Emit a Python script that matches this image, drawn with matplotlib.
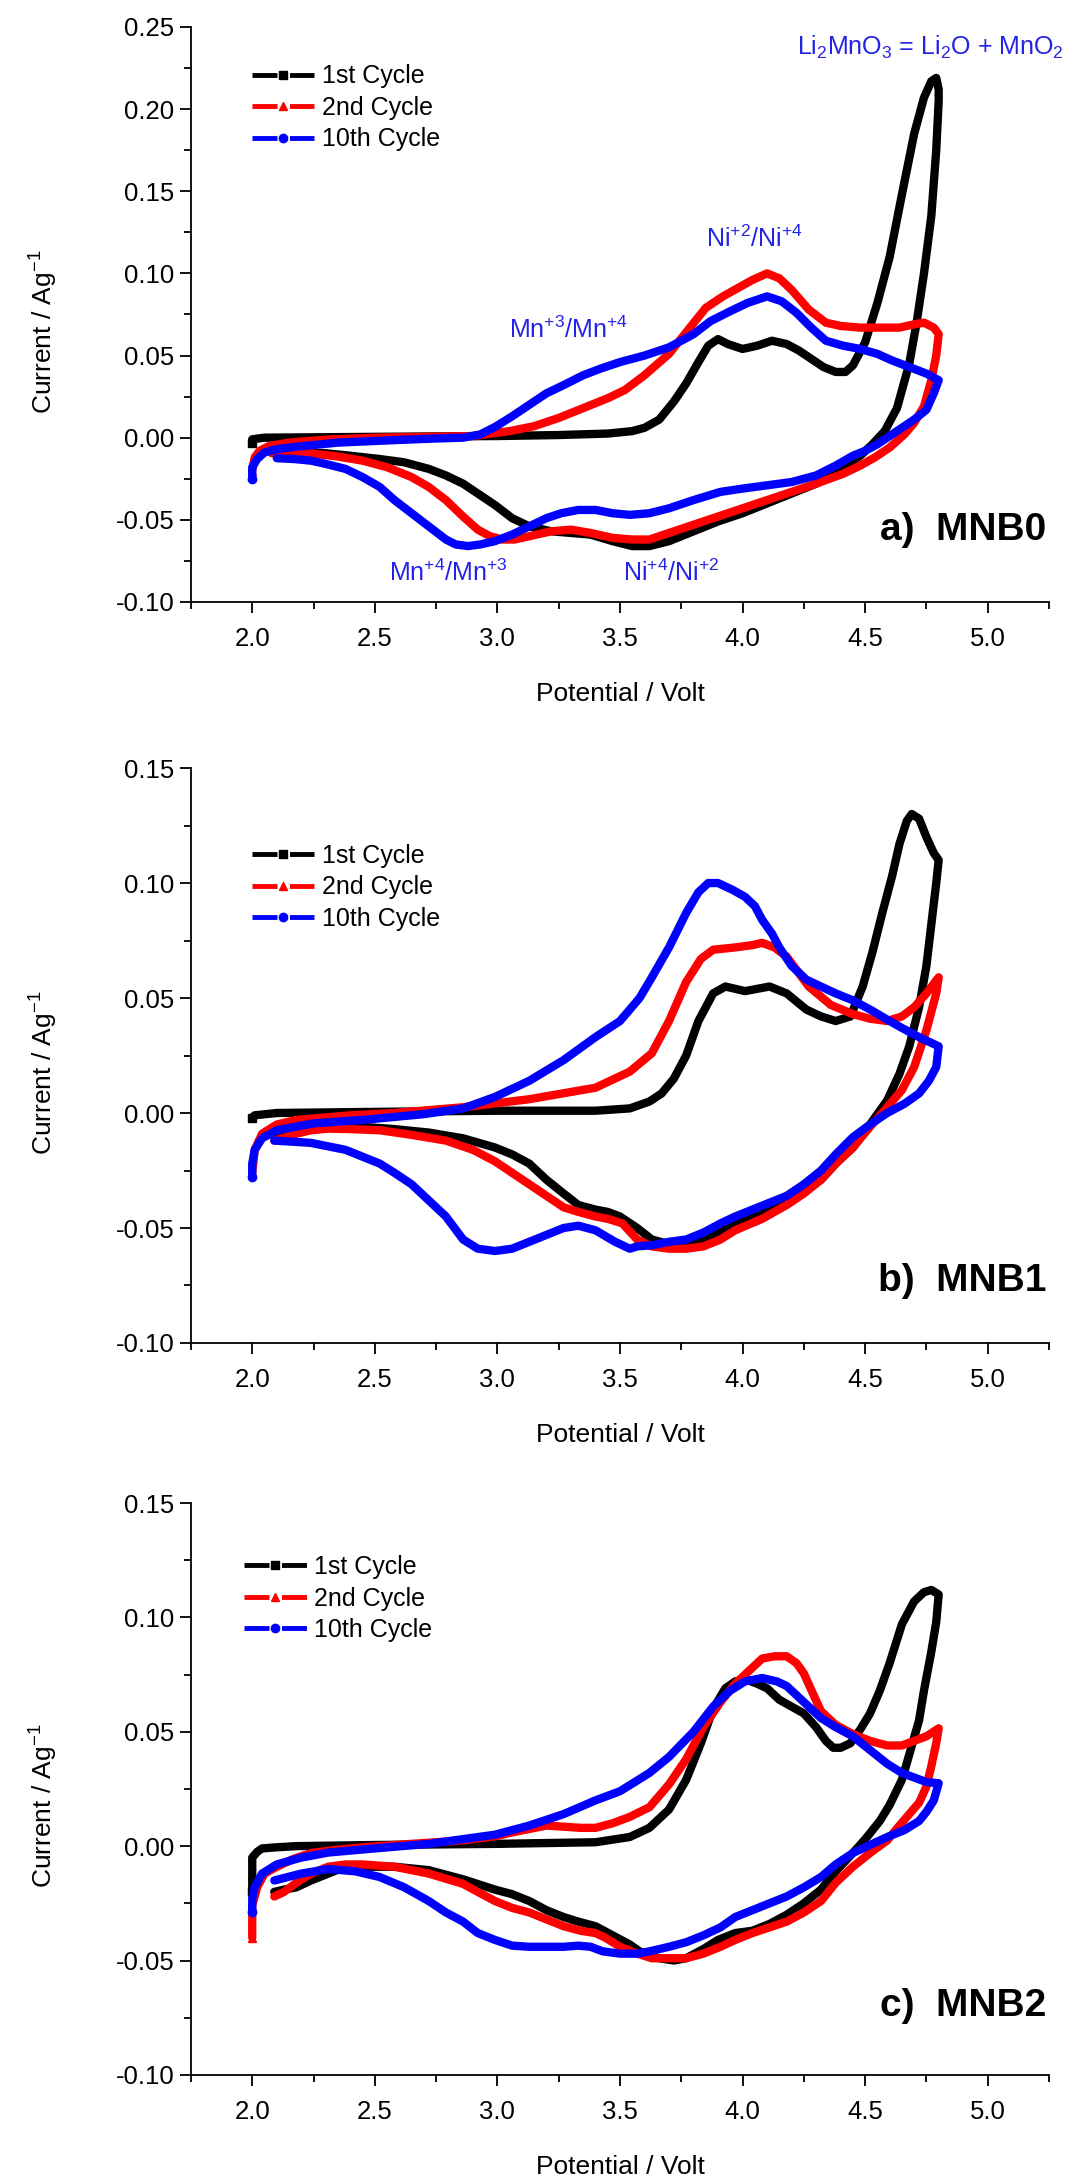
import numpy as np
import matplotlib
matplotlib.use("Agg")
import matplotlib.pyplot as plt
from matplotlib.lines import Line2D
from matplotlib.ticker import MultipleLocator, FormatStrFormatter

plt.rcParams["font.family"] = ["Liberation Sans", "DejaVu Sans"]
plt.rcParams["mathtext.fontset"] = "custom"
plt.rcParams["mathtext.rm"] = "Liberation Sans"
plt.rcParams["mathtext.it"] = "Liberation Sans:italic"
plt.rcParams["mathtext.bf"] = "Liberation Sans:bold"
plt.rcParams["axes.unicode_minus"] = False
plt.rcParams["lines.scale_dashes"] = False

CYCLES = ["1st Cycle", "2nd Cycle", "10th Cycle"]
COLORS = ["#000000", "#ff0000", "#0000ff"]
MARKERS = ["s", "^", "o"]
ANNOT_BLUE = "#2323e6"

# ── panel a) MNB0 : loops (anodic sweep then cathodic sweep) ─────────────────
a1_v = [2.00, 2.00, 2.05, 2.50, 3.00, 3.25, 3.45, 3.55, 3.60, 3.66, 3.72, 3.77, 3.82, 3.86, 3.90,
        3.94, 4.00, 4.06, 4.12, 4.18, 4.23, 4.28, 4.33, 4.38, 4.42, 4.45, 4.50, 4.55, 4.60, 4.65,
        4.70, 4.74, 4.77, 4.79, 4.80,
        4.80, 4.79, 4.77, 4.74, 4.71, 4.68, 4.63, 4.58, 4.53, 4.48, 4.43, 4.37, 4.30, 4.20, 4.10,
        4.00, 3.90, 3.80, 3.70, 3.62, 3.55, 3.47, 3.38, 3.30, 3.22, 3.13, 3.06, 2.99, 2.92, 2.86,
        2.79, 2.72, 2.62, 2.52, 2.40, 2.30, 2.20, 2.10]
a1_i = [-0.003, -0.001, 0.000, 0.0005, 0.001, 0.0016, 0.0025, 0.004, 0.006, 0.011, 0.022, 0.033,
        0.046, 0.056, 0.060, 0.057, 0.054, 0.056, 0.059, 0.057, 0.053, 0.048, 0.043, 0.040, 0.040,
        0.044, 0.058, 0.082, 0.110, 0.148, 0.185, 0.207, 0.217, 0.219, 0.212,
        0.205, 0.175, 0.135, 0.100, 0.070, 0.045, 0.018, 0.004, -0.004, -0.011, -0.016, -0.021,
        -0.028, -0.034, -0.040, -0.046, -0.051, -0.057, -0.063, -0.066, -0.066, -0.063, -0.059,
        -0.058, -0.057, -0.054, -0.049, -0.041, -0.034, -0.028, -0.023, -0.019, -0.015, -0.013,
        -0.011, -0.0095, -0.009, -0.0085]

a2_v = [2.00, 2.01, 2.03, 2.07, 2.15, 2.30, 2.50, 2.70, 2.90, 3.05, 3.15, 3.25, 3.35, 3.45, 3.52,
        3.60, 3.70, 3.78, 3.85, 3.92, 3.98, 4.04, 4.10, 4.15, 4.20, 4.27, 4.34, 4.40, 4.48, 4.56,
        4.64, 4.70, 4.74, 4.78, 4.80,
        4.79, 4.77, 4.74, 4.70, 4.66, 4.60, 4.54, 4.48, 4.41, 4.30, 4.20, 4.10, 4.00, 3.90, 3.80,
        3.70, 3.62, 3.55, 3.47, 3.38, 3.30, 3.22, 3.13, 3.07, 3.02, 2.97, 2.92, 2.86, 2.79, 2.72,
        2.65, 2.55, 2.45, 2.35, 2.24, 2.15, 2.08]
a2_i = [-0.020, -0.012, -0.008, -0.005, -0.003, -0.0012, 0.000, 0.0005, 0.001, 0.004, 0.007, 0.012,
        0.018, 0.024, 0.029, 0.038, 0.051, 0.066, 0.079, 0.086, 0.091, 0.096, 0.100, 0.097, 0.090,
        0.078, 0.070, 0.068, 0.067, 0.067, 0.067, 0.069, 0.070, 0.067, 0.063,
        0.050, 0.035, 0.019, 0.009, 0.002, -0.006, -0.012, -0.017, -0.022, -0.028, -0.033, -0.038,
        -0.043, -0.048, -0.053, -0.058, -0.062, -0.062, -0.061, -0.058, -0.056, -0.057, -0.060,
        -0.062, -0.062, -0.060, -0.056, -0.048, -0.038, -0.030, -0.024, -0.018, -0.014, -0.0115,
        -0.0095, -0.009, -0.0095]

a10_v = [2.00, 2.00, 2.02, 2.05, 2.10, 2.18, 2.35, 2.58, 2.75, 2.86, 2.93, 2.99, 3.06, 3.13, 3.20,
         3.27, 3.35, 3.42, 3.50, 3.60, 3.70, 3.80, 3.87, 3.95, 4.02, 4.10, 4.16, 4.22, 4.28, 4.34,
         4.41, 4.48, 4.55, 4.61, 4.68, 4.75, 4.80,
         4.78, 4.75, 4.70, 4.65, 4.61, 4.55, 4.50, 4.45, 4.38, 4.30, 4.20, 4.10, 4.00, 3.91, 3.80,
         3.70, 3.62, 3.54, 3.47, 3.40, 3.33, 3.26, 3.20, 3.13, 3.06, 2.99, 2.93, 2.88, 2.83, 2.79,
         2.72, 2.65, 2.58, 2.52, 2.45, 2.38, 2.30, 2.24, 2.17, 2.10]
a10_i = [-0.025, -0.018, -0.013, -0.009, -0.007, -0.0055, -0.003, -0.0015, -0.0005, 0.000, 0.002,
         0.0065, 0.013, 0.020, 0.027, 0.032, 0.038, 0.042, 0.046, 0.050, 0.055, 0.063, 0.071, 0.077,
         0.082, 0.086, 0.083, 0.076, 0.067, 0.059, 0.056, 0.054, 0.051, 0.047, 0.043, 0.039, 0.035,
         0.027, 0.017, 0.011, 0.006, 0.002, -0.004, -0.008, -0.011, -0.017, -0.023, -0.027, -0.029,
         -0.031, -0.033, -0.038, -0.043, -0.046, -0.047, -0.046, -0.044, -0.044, -0.046, -0.049,
         -0.054, -0.059, -0.063, -0.065, -0.066, -0.065, -0.062, -0.054, -0.046, -0.038, -0.030,
         -0.024, -0.019, -0.016, -0.014, -0.013, -0.0125]

# ── panel b) MNB1 ────────────────────────────────────────────────────────────
b1_v = [2.00, 2.01, 2.10, 2.50, 3.00, 3.40, 3.54, 3.62, 3.67, 3.72, 3.77, 3.82, 3.88, 3.93, 4.01,
        4.06, 4.11, 4.18, 4.26, 4.32, 4.38, 4.44, 4.49, 4.53, 4.57, 4.61, 4.64, 4.67, 4.69, 4.72,
        4.75, 4.78, 4.80,
        4.79, 4.77, 4.75, 4.72, 4.68, 4.64, 4.59, 4.52, 4.45, 4.38, 4.32, 4.25, 4.18, 4.11, 4.04,
        3.97, 3.91, 3.84, 3.77, 3.70, 3.63, 3.57, 3.50, 3.45, 3.40, 3.33, 3.27, 3.20, 3.13, 3.06,
        2.99, 2.86, 2.72, 2.58, 2.45, 2.30, 2.20, 2.12, 2.09]
b1_i = [-0.002, -0.001, 0.000, 0.0005, 0.001, 0.001, 0.002, 0.005, 0.0085, 0.015, 0.025, 0.040,
        0.052, 0.055, 0.053, 0.054, 0.055, 0.052, 0.045, 0.042, 0.040, 0.042, 0.055, 0.070, 0.087,
        0.103, 0.117, 0.127, 0.130, 0.128, 0.120, 0.113, 0.110,
        0.100, 0.082, 0.064, 0.046, 0.029, 0.017, 0.0055, -0.005, -0.015, -0.022, -0.029, -0.034,
        -0.039, -0.042, -0.044, -0.048, -0.052, -0.055, -0.057, -0.057, -0.055, -0.050, -0.045,
        -0.043, -0.042, -0.040, -0.035, -0.029, -0.022, -0.018, -0.015, -0.011, -0.0085, -0.007,
        -0.006, -0.0055, -0.006, -0.0085, -0.010]

b2_v = [2.00, 2.01, 2.04, 2.10, 2.18, 2.40, 2.58, 2.86, 3.13, 3.40, 3.54, 3.63, 3.70, 3.77, 3.83,
        3.88, 3.97, 4.04, 4.08, 4.13, 4.18, 4.27, 4.36, 4.45, 4.52, 4.59, 4.65, 4.70, 4.75, 4.80,
        4.79, 4.75, 4.70, 4.65, 4.59, 4.52, 4.45, 4.38, 4.32, 4.25, 4.18, 4.08, 3.97, 3.91, 3.84,
        3.77, 3.70, 3.63, 3.57, 3.51, 3.45, 3.40, 3.33, 3.27, 3.20, 3.13, 3.06, 2.99, 2.90, 2.79,
        2.65, 2.52, 2.40, 2.31, 2.24, 2.18, 2.12, 2.09]
b2_i = [-0.026, -0.016, -0.009, -0.005, -0.003, -0.001, 0.000, 0.0025, 0.006, 0.011, 0.018, 0.026,
        0.040, 0.057, 0.067, 0.071, 0.072, 0.073, 0.074, 0.072, 0.068, 0.055, 0.047, 0.043, 0.041,
        0.040, 0.042, 0.046, 0.052, 0.059,
        0.052, 0.036, 0.020, 0.010, 0.0025, -0.006, -0.015, -0.022, -0.029, -0.035, -0.040, -0.046,
        -0.051, -0.055, -0.058, -0.059, -0.059, -0.058, -0.055, -0.048, -0.046, -0.045, -0.043,
        -0.041, -0.036, -0.031, -0.026, -0.021, -0.016, -0.012, -0.0095, -0.0075, -0.007, -0.0068,
        -0.0075, -0.009, -0.011, -0.012]

b10_v = [2.00, 2.00, 2.01, 2.04, 2.10, 2.25, 2.45, 2.70, 2.86, 2.99, 3.13, 3.27, 3.40, 3.50, 3.58,
         3.63, 3.70, 3.77, 3.82, 3.86, 3.90, 3.96, 4.01, 4.05, 4.08, 4.12, 4.15, 4.20, 4.26, 4.32,
         4.38, 4.45, 4.52, 4.60, 4.65, 4.72, 4.80,
         4.79, 4.76, 4.72, 4.66, 4.59, 4.52, 4.45, 4.38, 4.32, 4.25, 4.18, 4.11, 4.04, 3.97, 3.91,
         3.84, 3.77, 3.70, 3.63, 3.57, 3.54, 3.48, 3.40, 3.33, 3.27, 3.20, 3.13, 3.06, 2.99, 2.92,
         2.86, 2.79, 2.72, 2.65, 2.58, 2.52, 2.45, 2.38, 2.31, 2.24, 2.17, 2.09]
b10_i = [-0.028, -0.022, -0.016, -0.011, -0.0075, -0.0045, -0.003, -0.0005, 0.002, 0.007, 0.014,
         0.023, 0.033, 0.040, 0.050, 0.059, 0.072, 0.087, 0.096, 0.100, 0.100, 0.097, 0.094, 0.090,
         0.084, 0.078, 0.072, 0.064, 0.058, 0.055, 0.052, 0.049, 0.045, 0.040, 0.037, 0.033, 0.029,
         0.020, 0.014, 0.0085, 0.004, 0.000, -0.005, -0.0105, -0.018, -0.025, -0.031, -0.036,
         -0.039, -0.042, -0.045, -0.048, -0.052, -0.055, -0.056, -0.0575, -0.058, -0.059, -0.056,
         -0.051, -0.049, -0.050, -0.053, -0.056, -0.059, -0.060, -0.059, -0.055, -0.045, -0.038,
         -0.031, -0.026, -0.022, -0.019, -0.016, -0.0145, -0.013, -0.0125, -0.012]

# ── panel c) MNB2 ────────────────────────────────────────────────────────────
c1_v = [2.00, 2.00, 2.00, 2.02, 2.04, 2.10, 2.18, 2.50, 3.00, 3.40, 3.54, 3.62, 3.70, 3.77, 3.83,
        3.88, 3.93, 3.97, 4.01, 4.06, 4.10, 4.15, 4.20, 4.25, 4.30, 4.34, 4.37, 4.40, 4.44, 4.48,
        4.52, 4.56, 4.60, 4.65, 4.70, 4.74, 4.77, 4.80,
        4.79, 4.77, 4.74, 4.72, 4.68, 4.65, 4.60, 4.56, 4.50, 4.45, 4.38, 4.32, 4.25, 4.18, 4.11,
        4.04, 3.97, 3.90, 3.84, 3.77, 3.72, 3.66, 3.62, 3.58, 3.54, 3.47, 3.40, 3.33, 3.27, 3.20,
        3.13, 3.06, 2.99, 2.86, 2.72, 2.58, 2.45, 2.38, 2.31, 2.24, 2.18, 2.13, 2.09]
c1_i = [-0.020, -0.012, -0.005, -0.0025, -0.001, -0.0005, 0.000, 0.0005, 0.001, 0.0017, 0.004,
        0.008, 0.016, 0.029, 0.045, 0.060, 0.069, 0.072, 0.073, 0.071, 0.069, 0.064, 0.061, 0.058,
        0.052, 0.046, 0.043, 0.043, 0.045, 0.051, 0.058, 0.068, 0.080, 0.097, 0.107, 0.111, 0.112,
        0.110,
        0.098, 0.085, 0.068, 0.055, 0.040, 0.029, 0.018, 0.011, 0.003, -0.003, -0.011, -0.019,
        -0.025, -0.030, -0.034, -0.037, -0.038, -0.041, -0.045, -0.049, -0.050, -0.049, -0.048,
        -0.046, -0.043, -0.039, -0.035, -0.033, -0.031, -0.028, -0.024, -0.021, -0.019, -0.0145,
        -0.0105, -0.009, -0.009, -0.009, -0.012, -0.015, -0.018, -0.019, -0.020]

c2_v = [2.00, 2.00, 2.00, 2.02, 2.05, 2.10, 2.17, 2.24, 2.35, 2.45, 2.65, 2.86, 3.00, 3.06, 3.13,
        3.20, 3.27, 3.34, 3.40, 3.47, 3.54, 3.62, 3.70, 3.77, 3.84, 3.91, 3.97, 4.03, 4.08, 4.13,
        4.18, 4.22, 4.25, 4.29, 4.32, 4.38, 4.45, 4.52, 4.59, 4.65, 4.70, 4.75, 4.80,
        4.79, 4.77, 4.75, 4.72, 4.68, 4.64, 4.59, 4.52, 4.45, 4.38, 4.32, 4.25, 4.18, 4.11, 4.04,
        3.97, 3.91, 3.84, 3.77, 3.70, 3.63, 3.57, 3.50, 3.44, 3.40, 3.34, 3.27, 3.20, 3.13, 3.06,
        2.99, 2.92, 2.86, 2.72, 2.58, 2.45, 2.38, 2.31, 2.24, 2.18, 2.13, 2.09]
c2_i = [-0.040, -0.033, -0.026, -0.018, -0.012, -0.009, -0.0055, -0.003, -0.0015, -0.0005, 0.001,
        0.0025, 0.0045, 0.006, 0.0075, 0.009, 0.0085, 0.008, 0.008, 0.010, 0.0128, 0.017, 0.027,
        0.038, 0.052, 0.063, 0.071, 0.077, 0.082, 0.083, 0.083, 0.080, 0.0755, 0.066, 0.059, 0.053,
        0.049, 0.046, 0.044, 0.044, 0.046, 0.048, 0.0515,
        0.045, 0.035, 0.026, 0.019, 0.014, 0.009, 0.0025, -0.003, -0.009, -0.016, -0.024, -0.029,
        -0.033, -0.0355, -0.038, -0.041, -0.044, -0.047, -0.049, -0.049, -0.049, -0.047, -0.044,
        -0.040, -0.038, -0.037, -0.035, -0.032, -0.029, -0.027, -0.024, -0.020, -0.0165, -0.012,
        -0.009, -0.008, -0.008, -0.009, -0.012, -0.016, -0.020, -0.022]

c10_v = [2.00, 2.00, 2.01, 2.04, 2.10, 2.20, 2.31, 2.50, 2.72, 2.99, 3.13, 3.27, 3.40, 3.50, 3.62,
         3.70, 3.80, 3.88, 3.95, 4.01, 4.08, 4.14, 4.18, 4.25, 4.32, 4.38, 4.45, 4.52, 4.59, 4.65,
         4.70, 4.75, 4.80,
         4.78, 4.75, 4.72, 4.66, 4.59, 4.52, 4.45, 4.38, 4.32, 4.25, 4.18, 4.11, 4.04, 3.97, 3.91,
         3.84, 3.77, 3.70, 3.62, 3.57, 3.50, 3.43, 3.38, 3.33, 3.27, 3.20, 3.13, 3.06, 2.99, 2.92,
         2.86, 2.79, 2.72, 2.62, 2.52, 2.42, 2.31, 2.20, 2.09]
c10_i = [-0.029, -0.023, -0.018, -0.012, -0.008, -0.005, -0.0028, -0.001, 0.001, 0.005, 0.009,
         0.014, 0.020, 0.024, 0.032, 0.039, 0.050, 0.061, 0.068, 0.072, 0.0735, 0.072, 0.070, 0.063,
         0.056, 0.052, 0.048, 0.042, 0.036, 0.032, 0.030, 0.028, 0.0275,
         0.020, 0.015, 0.011, 0.007, 0.004, 0.0005, -0.003, -0.008, -0.0135, -0.018, -0.022, -0.025,
         -0.028, -0.031, -0.0355, -0.039, -0.042, -0.044, -0.046, -0.047, -0.047, -0.046, -0.044,
         -0.0435, -0.044, -0.044, -0.044, -0.0435, -0.041, -0.038, -0.033, -0.029, -0.024, -0.018,
         -0.0135, -0.011, -0.010, -0.012, -0.015]

PANELS = [
    ("a)  MNB0", [(a1_v, a1_i), (a2_v, a2_i), (a10_v, a10_i)], (-0.10, 0.25), -0.056,
     (0.071, 0.935)),
    ("b)  MNB1", [(b1_v, b1_i), (b2_v, b2_i), (b10_v, b10_i)], (-0.10, 0.15), -0.073,
     (0.071, 0.868)),
    ("c)  MNB2", [(c1_v, c1_i), (c2_v, c2_i), (c10_v, c10_i)], (-0.10, 0.15), -0.070,
     (0.062, 0.909)),
]
# axes rectangles in figure fractions (left, bottom, width, height)
RECTS = [(0.1773, 0.7235, 0.7967, 0.2641),
         (0.1773, 0.3831, 0.7967, 0.2641),
         (0.1773, 0.0469, 0.7967, 0.2627)]

fig = plt.figure(figsize=(10.77, 21.77), dpi=100)

for (label, loops, ylim, lab_y, leg_xy), rect in zip(PANELS, RECTS):
    ax = fig.add_axes(rect)
    for (v, i), col, mk in zip(loops, COLORS, MARKERS):
        ax.plot(v, i, color=col, lw=6, solid_joinstyle="round", solid_capstyle="round",
                marker=mk, markevery=[0], markersize=6)

    ax.set_xlim(1.75, 5.25)
    ax.set_ylim(*ylim)
    ax.xaxis.set_major_locator(MultipleLocator(0.5))
    ax.xaxis.set_minor_locator(MultipleLocator(0.25))
    ax.yaxis.set_major_locator(MultipleLocator(0.05))
    ax.yaxis.set_minor_locator(MultipleLocator(0.025))
    ax.xaxis.set_major_formatter(FormatStrFormatter("%.1f"))
    ax.yaxis.set_major_formatter(FormatStrFormatter("%.2f"))
    for side in ("top", "right"):
        ax.spines[side].set_visible(False)
    for side in ("left", "bottom"):
        ax.spines[side].set_linewidth(1.3)
    ax.tick_params(which="major", direction="out", length=8, width=1.3, labelsize=18.5)
    ax.tick_params(which="minor", direction="out", length=5, width=1.3)
    ax.tick_params(axis="x", pad=10)
    ax.tick_params(axis="y", pad=4)

    ax.set_xlabel("Potential / Volt", fontsize=19)
    ax.set_ylabel("Current / Ag$^{-1}$", fontsize=19)
    ax.xaxis.set_label_coords(0.5, -0.14)
    ax.yaxis.set_label_coords(-0.153, 0.47)

    ax.text(5.24, lab_y, label, fontsize=28, fontweight="bold", ha="right", va="center")

    handles = [Line2D([], [], color=c, lw=3.5, marker=m, markersize=6, dashes=(18, 9))
               for c, m in zip(COLORS, MARKERS)]
    ax.legend(handles, CYCLES, loc="upper left", bbox_to_anchor=leg_xy, frameon=False,
              fontsize=18, borderpad=0, borderaxespad=0, handlelength=2.5,
              handletextpad=0.3, labelspacing=0.3, numpoints=1)

    if label.startswith("a"):
        kw = dict(color=ANNOT_BLUE, fontsize=18, ha="center", va="center", clip_on=False)
        ax.text(4.765, 0.2376, "Li$_2$MnO$_3$ = Li$_2$O + MnO$_2$", **kw)
        ax.text(4.05, 0.121, "Ni$^{+2}$/Ni$^{+4}$", **kw)
        ax.text(3.29, 0.0655, "Mn$^{+3}$/Mn$^{+4}$", **kw)
        ax.text(2.80, -0.0825, "Mn$^{+4}$/Mn$^{+3}$", **kw)
        ax.text(3.71, -0.0825, "Ni$^{+4}$/Ni$^{+2}$", **kw)

fig.savefig("out.png", dpi=100)
